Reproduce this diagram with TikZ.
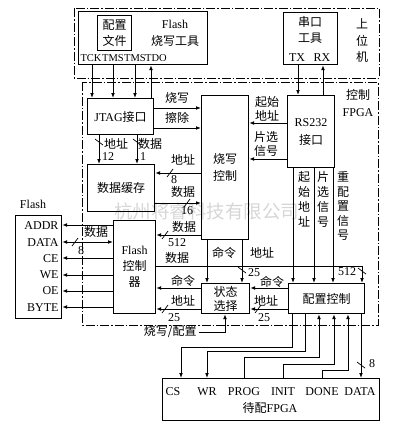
\documentclass[tikz,border=0pt]{standalone}
\usepackage{fontspec}
\setmainfont{Liberation Serif}
\newfontfamily\cjk{Noto Sans CJK SC}
\usetikzlibrary{arrows.meta}
\newcommand\zh[1]{{\cjk #1}}
\newcommand\fsz[1]{\fontsize{12}{#1}\selectfont}
\newcommand\sld[2]{\draw[line width=0.7pt] (#1-3,#2+4) -- (#1+3,#2-4);}
\newcommand\sldv[2]{\draw[line width=0.7pt] (#1-4,#2-3) -- (#1+4,#2+3);}
\begin{document}
\begin{tikzpicture}[x=1pt, y=-1pt, line width=1pt,
  >={Latex[length=5pt,width=3.8pt]},
  box/.style={draw, line width=1.1pt, inner sep=0, anchor=north west, align=center, font=\fsz{16}},
  dd/.style={dash pattern=on 9pt off 2pt on 1.5pt off 2pt, line width=1pt},
  zl/.style={inner sep=0, font=\cjk\fsz{15}, align=center},
  el/.style={inner sep=0, font=\fsz{14}, align=center}]
\useasboundingbox (0,0) rectangle (414,426);
% watermark
\node[inner sep=0, font=\cjk\fontsize{18.5}{18.5}\selectfont, text=black!16] (wm) at (206.5,211) {杭州将睿科技有限公司};
% outer regions
\draw[dd] (74,8) rectangle (379,78);
\draw[dd] (82,82) rectangle (378,325);
% host
\node[box, minimum width=129pt, minimum height=53pt] (tool) at (78,11) {};
\node[box, minimum width=34pt, minimum height=35pt, font=\cjk\fsz{16}] (cfgfile) at (97,15) {配置\\文件};
\node[el, font=\fsz{17}] (tooltxt) at (175,33) {Flash\\\zh{烧写工具}};
\node[el, font=\fontsize{10.5}{12}\selectfont] (tck) at (91,58) {TCK};
\node[el, font=\fontsize{10.5}{12}\selectfont] (tms1) at (113,58) {TMS};
\node[el, font=\fontsize{10.5}{12}\selectfont] (tms2) at (135,58) {TMS};
\node[el, font=\fontsize{10.5}{12}\selectfont] (tdo) at (156,58) {TDO};
\node[box, minimum width=54pt, minimum height=52pt] (ser) at (283,12) {};
\node[zl, font=\cjk\fsz{16}] (sertxt) at (310,30) {串口\\工具};
\node[el] (tx) at (297,57.5) {TX};
\node[el] (rx) at (322,57.5) {RX};
\node[zl, font=\cjk\fsz{16.5}] (upper) at (362,41) {上\\位\\机};
\node[el, font=\fsz{17}] (ctrl) at (358,103) {\zh{控制}\\FPGA};
% control FPGA blocks
\node[box, minimum width=66pt, minimum height=36pt] (jtag) at (87,98) {JTAG\zh{接口}};
\node[box, minimum width=47pt, minimum height=144pt, font=\cjk\fsz{17}] (burn) at (201,95) {烧写\\控制};
\node[box, minimum width=47pt, minimum height=72pt, font=\fsz{18}] (rs) at (287,95) {RS232\\\zh{接口}};
\node[box, minimum width=67pt, minimum height=47pt, font=\cjk\fsz{16}] (buf) at (87,164) {数据缓存};
\node[box, minimum width=42pt, minimum height=93pt, font=\fsz{16}] (fc) at (113,220) {Flash\\\zh{控制}\\\zh{器}};
\node[box, minimum width=48pt, minimum height=30pt, font=\cjk\fsz{14}] (ss) at (201,283) {状态\\选择};
\node[box, minimum width=76pt, minimum height=30pt, font=\cjk\fsz{14}] (cfg) at (288,283) {配置控制};
% flash chip
\node[el] (flashlbl) at (33,204) {Flash};
\node[box, minimum width=46pt, minimum height=103pt] (chip) at (15,215) {};
\node[el, anchor=east] (addr) at (59,226) {ADDR};
\node[el, anchor=east] (data) at (59,242.5) {DATA};
\node[el, anchor=east] (ce) at (59,259) {CE};
\node[el, anchor=east] (we) at (59,275) {WE};
\node[el, anchor=east] (oe) at (59,291) {OE};
\node[el, anchor=east] (byte) at (59,307.5) {BYTE};
% target FPGA
\node[box, minimum width=217pt, minimum height=42pt] (fpga) at (162,378) {};
\node[el] (cs) at (173,392) {CS};
\node[el] (wr) at (207,392) {WR};
\node[el] (prog) at (244,392) {PROG};
\node[el] (init) at (283,392) {INIT};
\node[el] (done) at (322,392) {DONE};
\node[el] (dat) at (360,392) {DATA};
\node[el] (fpgatxt) at (270,408) {\zh{待配}FPGA};
% host arrows
\draw[->] (tool.south -| 92,0) -- (jtag.north -| 92,0);
\draw[->] (tool.south -| 113,0) -- (jtag.north -| 113,0);
\draw[->] (tool.south -| 135,0) -- (jtag.north -| 135,0);
\draw[->] (jtag.north -| 151,0) -- (tool.south -| 151,0);
\draw[->] (ser.south -| 298,0) -- (rs.north -| 298,0);
\draw[->] (rs.north -| 323,0) -- (ser.south -| 323,0);
% jtag -> burn
\draw[->] (jtag.east |- 0,108) -- (burn.west |- 0,108);
\draw[->] (jtag.east |- 0,128) -- (burn.west |- 0,128);
\node[zl] (l1) at (177,98) {烧写};
\node[zl] (l2) at (177,118) {擦除};
% rs -> burn
\draw[->] (rs.west |- 0,123) -- (burn.east |- 0,123);
\draw[->] (rs.west |- 0,159) -- (burn.east |- 0,159);
\node[zl] (l3) at (267,102) {起始};
\node[zl] (l4) at (267,116) {地址};
\node[zl] (l5) at (266,137) {片选};
\node[zl] (l6) at (266,151) {信号};
% jtag -> buf
\draw[->] (jtag.south -| 99,0) -- (buf.north -| 99,0);
\draw[->] (jtag.south -| 137,0) -- (buf.north -| 137,0);
\sldv{99}{142}
\sldv{137}{142}
\node[zl] (l7) at (116,144) {地址};
\node[zl] (l8) at (150,144) {数据};
\node[el] (l9) at (108,157) {12};
\node[el] (l10) at (143,157) {1};
% burn <-> buf
\draw[->] (burn.west |- 0,173) -- (buf.east |- 0,173);
\sld{170}{173}
\node[zl] (l11) at (183,160) {地址};
\node[el] (l12) at (174,180) {8};
\node[zl] (l13) at (183,192) {数据};
\draw[->] (buf.east |- 0,203) -- (burn.west |- 0,203);
\sld{187}{203}
\node[el] (l14) at (187,211) {16};
\node[zl] (l15) at (184,226.5) {数据};
% burn -> fc
\draw[->] (burn.west |- 0,235) -- (fc.east |- 0,235);
\sld{165}{235}
\node[el] (l16) at (177,243) {512};
\node[zl] (l17) at (177,258) {数据};
% fc -> cfg 512
\draw[->] (fc.east |- 0,266) -| (cfg.north -| 362,0);
\sldv{362}{271}
\node[el] (l18) at (347,272) {512};
% burn -> ss
\draw[->] (burn.south -| 207,0) -- (ss.north -| 207,0);
\draw[->] (burn.south -| 242,0) -- (ss.north -| 242,0);
\sldv{242}{270}
\node[zl] (l19) at (224,253) {命令};
\node[zl] (l20) at (262,253) {地址};
\node[el] (l21) at (254,273) {25};
% ss -> fc
\draw[->] (ss.west |- 0,288) -- (fc.east |- 0,288);
\draw[->] (ss.west |- 0,309) -- (fc.east |- 0,309);
\sld{165}{309}
\node[zl] (l22) at (183,281) {命令};
\node[zl] (l23) at (183,301) {地址};
\node[el] (l24) at (174,318) {25};
% cfg -> ss
\draw[->] (cfg.west |- 0,288) -- (ss.east |- 0,288);
\draw[->] (cfg.west |- 0,309) -- (ss.east |- 0,309);
\sld{258}{309}
\node[zl] (l25) at (272,281.5) {命令};
\node[zl] (l26) at (266,301) {地址};
\node[el] (l27) at (264,318) {25};
% burn/config select
\node[zl, anchor=east] (bp) at (197,332) {烧写/配置};
\draw[->] ([xshift=2pt]bp.east) -| (ss.south -| 225,0);
% fc -> chip
\draw[->] (fc.west |- 0,225) -- (chip.east |- 0,225);
\draw[<->] (fc.west |- 0,242) -- (chip.east |- 0,242);
\draw[->] (fc.west |- 0,258) -- (chip.east |- 0,258);
\draw[->] (fc.west |- 0,275) -- (chip.east |- 0,275);
\draw[->] (fc.west |- 0,291) -- (chip.east |- 0,291);
\draw[->] (fc.west |- 0,307) -- (chip.east |- 0,307);
\sld{75}{242}
\node[el] (l28) at (81,251) {8};
\node[zl] (l29) at (96,232) {数据};
% rs -> cfg
\draw[->] (rs.south -| 293,0) -- (cfg.north -| 293,0);
\draw[->] (rs.south -| 314,0) -- (cfg.north -| 314,0);
\draw[->] (rs.south -| 333,0) -- (cfg.north -| 333,0);
\node[zl, font=\cjk\fsz{15}] (v1) at (304,199.5) {起\\始\\地\\址};
\node[zl, font=\cjk\fsz{15}] (v2) at (323,199.5) {片\\选\\信\\号};
\node[zl, font=\cjk\fsz{14.5}] (v3) at (343,206) {重\\配\\置\\信\\号};
% cfg <-> target fpga
\draw[->] (cfg.south -| 292,0) -- (292,347) -| (fpga.north -| 181,0);
\draw[->] (cfg.south -| 305,0) -- (305,351) -| (fpga.north -| 207,0);
\draw[->] (fpga.north -| 244,0) -- (244,357) -| (cfg.south -| 319,0);
\draw[->] (fpga.north -| 283,0) -- (283,364) -| (cfg.south -| 334,0);
\draw[->] (fpga.north -| 322,0) -- (322,370) -| (cfg.south -| 348,0);
\draw[->] (cfg.south -| 361,0) -- (fpga.north -| 361,0);
\sldv{361}{365}
\node[el] (l30) at (372,364) {8};
\end{tikzpicture}
\end{document}
